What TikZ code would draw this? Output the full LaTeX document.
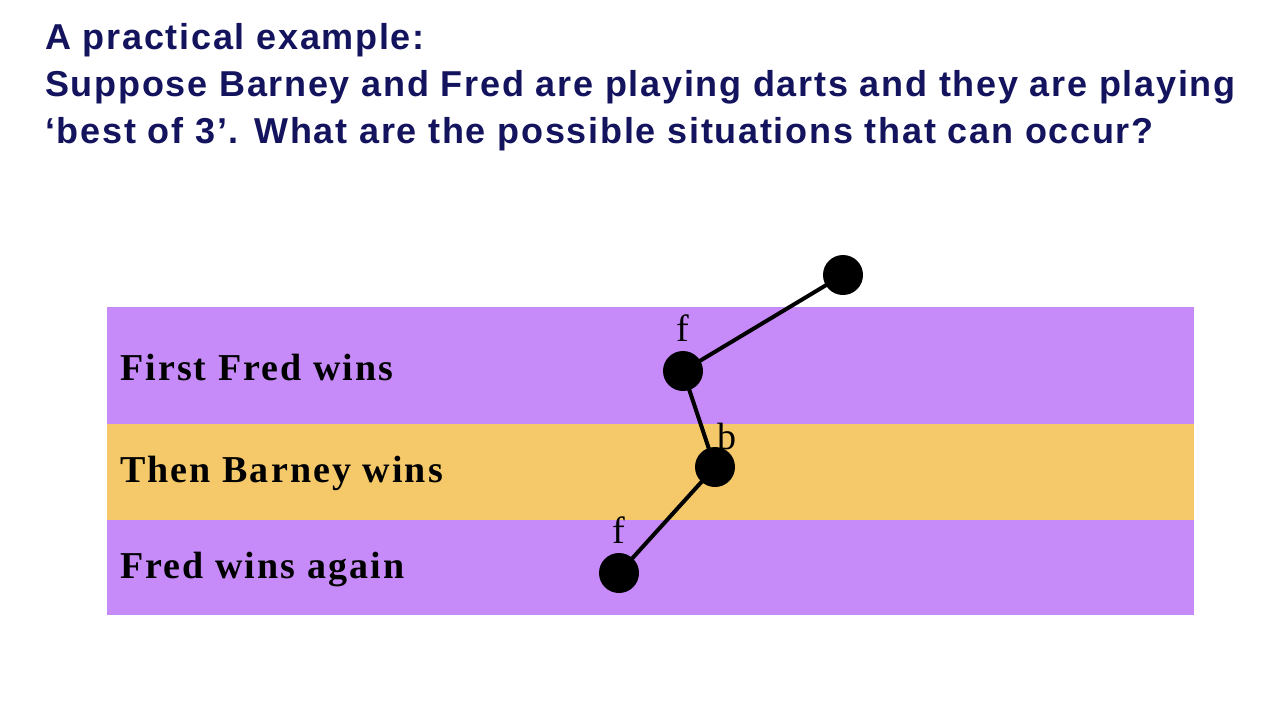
\documentclass[tikz,border=0pt]{standalone}
\usepackage{fontspec}
\setmainfont{Liberation Serif}
\newfontfamily\titlefont[LetterSpace=4.8]{Liberation Sans}
\newfontfamily\lblfont[LetterSpace=5.5]{Liberation Serif}
\definecolor{navy}{HTML}{13135E}
\definecolor{band1}{HTML}{C68BF8}
\definecolor{band2}{HTML}{F5C96A}
\begin{document}
\begin{tikzpicture}[x=1pt,y=-1pt,
  dot/.style={circle,fill=black,minimum size=40pt,inner sep=0pt},
  lbl/.style={anchor=west,font=\lblfont\fontsize{38}{40}\selectfont\bfseries},
  elbl/.style={font=\fontsize{38}{40}\selectfont},
  edge/.style={line width=4pt}]
\useasboundingbox (0,0) rectangle (1280,720);
\fill[white] (0,0) rectangle (1280,720);
\node[anchor=west,text=navy,font=\titlefont\bfseries\fontsize{36}{47}\selectfont,align=left,inner sep=0pt] (title) at (45,87)
 {A practical example:\\Suppose Barney and Fred are playing darts and they are playing\\‘best of 3’. What are the possible situations that can occur?};
\fill[band1] (107,307) rectangle (1194,424);
\fill[band2] (107,424) rectangle (1194,520);
\fill[band1] (107,520) rectangle (1194,615);
\node[lbl,inner sep=0pt] (l1) at (120,367) {First Fred wins};
\node[lbl,inner sep=0pt] (l2) at (120,473) {Then Barney wins};
\node[lbl,inner sep=0pt] (l3) at (120,570) {Fred wins again};
\node[dot] (n0) at (843,275) {};
\node[dot] (n1) at (683,371) {};
\node[dot] (n2) at (715,467) {};
\node[dot] (n3) at (619,573) {};
\draw[edge] (n0.center) -- (n1.center) -- (n2.center) -- (n3.center);
\node[elbl] (f1) at (683,328) {f};
\node[elbl] (b1) at (727,436) {b};
\node[elbl] (f2) at (619,530) {f};
\end{tikzpicture}
\end{document}
